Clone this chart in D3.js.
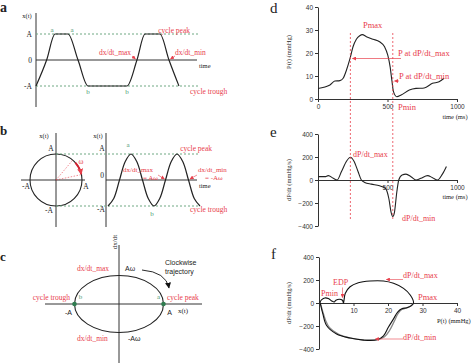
<!DOCTYPE html>
<html><head><meta charset="utf-8">
<script src="https://cdn.jsdelivr.net/npm/d3@7"></script>
<style>body{margin:0;background:#fff}svg{display:block}</style>
</head><body>
<script>
// ---------------- DATA ----------------
// panel a: idealised plateau waveform (time units, x in units of A)
const aTime = [0, 0.66, 1.18, 1.99, 2.61, 3.23, 5.65, 6.27, 6.77, 7.70, 8.26, 8.88];
const aX    = [-1, 0, 1, 1, 0, -1, -1, 0, 1, 1, 0, -1];
// panel b: sinusoid (phase in periods, x in units of A)
const bPhase = [0,0.125,0.25,0.375,0.5,0.625,0.75,0.875,1,1.125,1.25,1.375,1.5,1.625,1.75,1.875,2];
const bX     = [-1,-0.71,0,0.71,1,0.71,0,-0.71,-1,-0.71,0,0.71,1,0.71,0,-0.71,-1];
// panel c: phase-plane points
const cNames = ["a", "b"];
const cXs    = [1, -1];
const cVs    = [0, 0];
// panel d: pressure trace
const dTime = [0,86,121,157,181,205,229,252,276,300,319,348,395,443,479,502,519,531,543,567,598,657,705,764,824,871,907];
const dP    = [4.6,6.1,7.8,8.0,9.0,12.6,17.3,22.7,26,27.5,28,27.1,26,24.9,22.7,19.1,14,8.3,3.2,1.0,1.7,3.9,4.6,4.8,6.8,7.5,9.0];
// panel e: dP/dt trace
const eTime = [0,50,74,110,138,169,205,233,259,288,312,336,383,443,486,510,526,538,550,567,581,605,633,669,705,740,788,824,860,895,924];
const eDPdt = [29,29,38,15,0,74,163,198,163,74,0,-21,-36,-50,-74,-163,-281,-317,-281,-104,0,44,51,29,0,15,38,20,0,51,118];
const tAtMax = 233, tAtMin = 538;
// panel f: phase loop P vs dP/dt (beat 1 and overlapping beat 2 lower limb)
const fP  = [0.3,0.8,1.7,2.7,3.7,4.4,4.9,5.9,6.8,7.1,7.6,9.0,11.4,14.8,18.7,21.6,24.5,26.5,27.4,26.9,25.5,24.0,22.8,21.6,20.1,18.7,16.8,12.9,9.0,5.1,2.2,1.1,0.5,0.3];
const fV  = [9,30,44,39,18,9,24,33,24,0,83,141,176,191,191,171,127,68,0,-20,-41,-50,-79,-138,-211,-285,-320,-323,-305,-270,-196,-93,-20,9];
const fP2 = [27.4,26.7,25.4,24.0,22.9,21.8,20.5,19.0,16.9,12.7,8.9,5.6,3.0,1.9,1.1,0.5];
const fV2 = [0,-24,-43,-57,-92,-160,-236,-294,-318,-320,-303,-270,-212,-150,-75,-12];
// tick labels
const dXTicks = [0,500,1000], dYTicks = [0,10,20,30,40];
const eXTicks = [500,1000],  eYTicks = [-400,-200,0,200,400];
const fXTicks = [10,20,30,40], fYTicks = [-400,-200,0,200,400];

// ---------------- SETUP ----------------
const W = 474, H = 363;
const RED = "#e8404c", GREEN = "#4d9a72", GDASH = "#6fa883", AX = "#333";
const SERIF = "'Liberation Serif','DejaVu Serif',serif";
const SANS = "'Liberation Sans',Arial,sans-serif";
const svg = d3.select("body").append("svg").attr("width", W).attr("height", H);
svg.append("rect").attr("width", W).attr("height", H).attr("fill", "#fff");
const defs = svg.append("defs");
function marker(id, color, size) {
  defs.append("marker").attr("id", id).attr("viewBox", "0 0 10 10")
    .attr("refX", 9).attr("refY", 5).attr("markerWidth", size).attr("markerHeight", size)
    .attr("markerUnits", "userSpaceOnUse").attr("orient", "auto")
    .append("path").attr("d", "M0,0 L10,5 L0,10 z").attr("fill", color);
}
marker("arrR", RED, 4); marker("arrR5", RED, 6); marker("arrK", "#111", 6);

function txt(x, y, s, o = {}) {
  const t = svg.append("text").attr("x", x).attr("y", y).text(s)
    .attr("font-family", o.font || SERIF).attr("font-size", o.size || 7.5)
    .attr("fill", o.color || "#222").attr("text-anchor", o.anchor || "start");
  if (o.weight) t.attr("font-weight", o.weight);
  if (o.rotate) t.attr("transform", `rotate(${o.rotate},${x},${y})`);
  return t;
}
function line(x1, y1, x2, y2, o = {}) {
  const l = svg.append("line").attr("x1", x1).attr("y1", y1).attr("x2", x2).attr("y2", y2)
    .attr("stroke", o.color || AX).attr("stroke-width", o.w || 1);
  if (o.dash) l.attr("stroke-dasharray", o.dash);
  if (o.marker) l.attr("marker-end", `url(#${o.marker})`);
  return l;
}

// ---------------- PANEL a ----------------
{
  const x = d3.scaleLinear().domain([0, 10]).range([36, 197]);
  const y = d3.scaleLinear().domain([-1, 1]).range([86, 34]);
  txt(0, 12, "a", {size: 14, weight: "bold"});
  line(36, 13, 36, 107);
  line(36, y(0), 197, y(0));
  [1, -1].forEach(v => line(36, y(v), 200, y(v), {color: GDASH, dash: "2,2"}));
  txt(27, 18, "x(t)", {size: 6.5, anchor: "middle"});
  txt(32, y(1) + 2.5, "A", {anchor: "end"});
  txt(32, y(0) + 2.5, "0", {anchor: "end"});
  txt(32, y(-1) + 2.5, "-A", {anchor: "end"});
  txt(199, y(0) + 8, "time", {size: 6.5});
  const pts = aTime.map((t, i) => [x(t), y(aX[i])]);
  svg.append("path").attr("d", d3.line().curve(d3.curveMonotoneX)(pts))
    .attr("fill", "none").attr("stroke", "#222").attr("stroke-width", 1.2);
  txt(x(aTime[2]) - 3, y(1) - 2, "a", {color: GREEN, anchor: "middle", size: 7});
  txt(x(aTime[3]) + 4, y(1) - 2, "a", {color: GREEN, anchor: "middle", size: 7});
  txt(x(aTime[5]), y(-1) + 8, "b", {color: GREEN, anchor: "middle", size: 7});
  txt(x(aTime[6]), y(-1) + 8, "b", {color: GREEN, anchor: "middle", size: 7});
  txt(190, y(1) - 1.5, "cycle peak", {color: RED, anchor: "end"});
  txt(190, y(-1) + 8, "cycle trough", {color: RED});
  txt(99, 55, "dx/dt_max", {color: RED});
  line(132, 56, x(aTime[7]) - 1.5, y(0) - 1, {color: RED, w: 0.7, marker: "arrR"});
  txt(175, 55, "dx/dt_min", {color: RED});
  line(175, 56, x(aTime[10]) + 1.5, y(0) - 1, {color: RED, w: 0.7, marker: "arrR"});
}

// ---------------- PANEL b ----------------
{
  txt(0, 135, "b", {size: 13, weight: "bold"});
  const cx = d3.scaleLinear().domain([-1, 1]).range([30, 82]);
  const cy = d3.scaleLinear().domain([-1, 1]).range([206, 154]);
  const X0 = cx(0), Y0 = cy(0), R = cx(1) - cx(0);
  line(X0, 133, X0, 227);
  line(21, Y0, 85, Y0);
  svg.append("circle").attr("cx", X0).attr("cy", Y0).attr("r", R)
    .attr("fill", "none").attr("stroke", "#222").attr("stroke-width", 1.1);
  txt(44, 138, "x(t)", {size: 6.5, anchor: "middle"});
  txt(51, 151, "A", {anchor: "middle"});
  txt(26, 189, "-A", {anchor: "middle"});
  txt(86, 189, "A", {anchor: "middle"});
  txt(49, 213, "-A", {anchor: "middle"});
  // omega rays and arc
  [50, 12].forEach(deg => {
    const a = -deg * Math.PI / 180;
    line(X0, Y0, X0 + R * Math.cos(a), Y0 + R * Math.sin(a), {color: RED, w: 0.6, dash: "1.5,1.5"});
  });
  const p = d3.path(); p.arc(X0, Y0, R, -42 * Math.PI / 180, -13 * Math.PI / 180, false);
  svg.append("path").attr("d", p.toString()).attr("fill", "none").attr("stroke", "#d42030")
    .attr("stroke-width", 1.8).attr("marker-end", "url(#arrR5)");
  txt(81, 164, "ω", {color: RED, size: 7.5, anchor: "middle"});

  const x = d3.scaleLinear().domain([0, 2]).range([108, 200]);
  const y = cy;
  line(106, 133, 106, 227);
  line(106, Y0, 197, Y0);
  [1, -1].forEach(v => line(X0, y(v), 200, y(v), {color: GDASH, dash: "2,2"}));
  txt(98, 138, "x(t)", {size: 6.5, anchor: "middle"});
  txt(102, 151, "A", {anchor: "middle"});
  txt(102, 178, "0", {anchor: "middle"});
  txt(101, 212, "-A", {anchor: "middle"});
  txt(199, y(0) + 8, "time", {size: 6.5});
  const pts = bPhase.map((t, i) => [x(t), y(bX[i])]);
  svg.append("path").attr("d", d3.line().curve(d3.curveCatmullRom)(pts))
    .attr("fill", "none").attr("stroke", "#222").attr("stroke-width", 1.2);
  txt(x(0.5) - 3, y(1) - 7, "a", {color: GREEN, anchor: "middle", size: 7});
  txt(x(1) - 2, y(-1) + 10, "b", {color: GREEN, anchor: "middle", size: 7});
  txt(212, y(1) - 3, "cycle peak", {color: RED, anchor: "end"});
  txt(190, y(-1) + 6, "cycle trough", {color: RED});
  txt(123, 172, "dx/dt_max", {color: RED, size: 7});
  txt(143, 180, "= Aω", {color: RED, size: 7});
  line(158, 175, x(1.25) - 1, y(0) - 1, {color: RED, w: 0.6, marker: "arrR"});
  txt(198, 172, "dx/dt_min", {color: RED, size: 7});
  txt(205, 180, "= -Aω", {color: RED, size: 7});
  line(197, 175, x(1.75) + 1.5, y(0) - 1, {color: RED, w: 0.6, marker: "arrR"});
}

// ---------------- PANEL c ----------------
{
  txt(0, 261, "c", {size: 13, weight: "bold"});
  const x = d3.scaleLinear().domain([-1, 1]).range([74.5, 163.5]);
  const y = d3.scaleLinear().domain([-1, 1]).range([332.5, 275.5]);
  line(x(0), 245, x(0), 363);
  line(45, y(0), 202, y(0));
  txt(117, 242, "dx/dt", {size: 7, anchor: "middle", rotate: -90});
  svg.append("ellipse").attr("cx", x(0)).attr("cy", y(0))
    .attr("rx", x(1) - x(0)).attr("ry", y(0) - y(1))
    .attr("fill", "none").attr("stroke", "#222").attr("stroke-width", 1.1);
  const pts = cNames.map((n, i) => ({n, x: cXs[i], v: cVs[i]}));
  svg.selectAll("circle.cp").data(pts).enter().append("circle").attr("class", "cp")
    .attr("cx", d => x(d.x)).attr("cy", d => y(d.v)).attr("r", 2.3).attr("fill", "#2f7d50");
  txt(x(1) - 5, y(0) - 5, "a", {color: GREEN, anchor: "middle", size: 7});
  txt(x(-1) + 6, y(0) - 5, "b", {color: GREEN, anchor: "middle", size: 7});
  txt(70, y(0) - 4.5, "cycle trough", {color: RED, anchor: "end"});
  txt(167, y(0) - 4.5, "cycle peak", {color: RED});
  txt(x(-1) - 6, y(0) + 11, "-A", {font: SANS, size: 7, anchor: "middle"});
  txt(x(1) + 6, y(0) + 11, "A", {font: SANS, size: 7, anchor: "middle"});
  txt(183, y(0) + 9, "x(t)", {size: 7, anchor: "middle"});
  txt(77, 271, "dx/dt_max", {color: RED});
  txt(125, 271, "Aω", {font: SANS, size: 7});
  txt(77, 341, "dx/dt_min", {color: RED});
  txt(128, 341, "-Aω", {font: SANS, size: 7});
  txt(165, 265, "Clockwise", {font: SANS, size: 7});
  txt(165, 274, "trajectory", {font: SANS, size: 7});
  svg.append("path").attr("d", "M142,270 Q166,272 169,288").attr("fill", "none")
    .attr("stroke", "#111").attr("stroke-width", 0.9).attr("marker-end", "url(#arrK)");
}

// ---------------- PANEL d / e / f axes helpers ----------------
function styleAxis(g) {
  g.select(".domain").attr("stroke", AX).attr("stroke-width", 1);
  g.selectAll(".tick line").attr("stroke", AX);
  g.selectAll(".tick text").attr("font-family", SANS).attr("font-size", 6.5).attr("fill", "#333");
}
const xT = d3.scaleLinear().domain([0, 1000]).range([318, 457]);
const fmt = d3.format("d");

// ---------------- PANEL d ----------------
{
  txt(270, 13, "d", {size: 15});
  const y = d3.scaleLinear().domain([0, 40]).range([99, 7]);
  svg.append("g").attr("transform", "translate(318,0)")
    .call(d3.axisLeft(y).tickValues(dYTicks).tickFormat(fmt).tickSize(3).tickSizeOuter(0).tickPadding(2)).call(styleAxis);
  svg.append("g").attr("transform", `translate(0,${y(0)})`)
    .call(d3.axisBottom(xT).tickValues(dXTicks).tickFormat(fmt).tickSize(3).tickSizeOuter(0).tickPadding(2)).call(styleAxis);
  txt(291, 52, "P(t) (mmHg)", {size: 6.5, anchor: "middle", rotate: -90});
  txt(455, 119, "time (ms)", {size: 6.5, anchor: "middle"});
  svg.append("path").attr("d", d3.line().curve(d3.curveMonotoneX)(dTime.map((t, i) => [xT(t), y(dP[i])])))
    .attr("fill", "none").attr("stroke", "#222").attr("stroke-width", 1.1);
  txt(363, 28, "Pmax", {color: RED, size: 8.5});
  txt(398, 56, "P at dP/dt_max", {color: RED, size: 8.5});
  line(401, 58.5, xT(tAtMax) + 2, 58.5, {color: RED, w: 0.7, marker: "arrR"});
  txt(399, 79, "P at dP/dt_min", {color: RED, size: 8.5});
  line(399, 81, 394.5, 81, {color: RED, w: 0.7, marker: "arrR"});
  txt(398, 110, "Pmin", {color: RED, size: 8.5});
}

// ---------------- PANEL e ----------------
{
  txt(270, 137, "e", {size: 15});
  const y = d3.scaleLinear().domain([-400, 400]).range([226, 134]);
  svg.append("g").attr("transform", "translate(318,0)")
    .call(d3.axisLeft(y).tickValues(eYTicks).tickFormat(fmt).tickSize(3).tickSizeOuter(0).tickPadding(2)).call(styleAxis);
  svg.append("g").attr("transform", `translate(0,${y(0)})`)
    .call(d3.axisBottom(xT).tickValues(eXTicks).tickFormat(fmt).tickSize(3).tickSizeOuter(0).tickPadding(2)).call(styleAxis);
  txt(291, 180, "dP/dt (mmHg/s)", {size: 6.5, anchor: "middle", rotate: -90});
  txt(455, 199, "time (ms)", {size: 6.5, anchor: "middle"});
  svg.append("path").attr("d", d3.line().curve(d3.curveMonotoneX)(eTime.map((t, i) => [xT(t), y(eDPdt[i])])))
    .attr("fill", "none").attr("stroke", "#222").attr("stroke-width", 1.1);
  txt(353, 157, "dP/dt_max", {color: RED, size: 8});
  txt(402, 221, "dP/dt_min", {color: RED, size: 8});
}
// red dashed verticals across d and e
[tAtMax, tAtMin].forEach(t => line(xT(t), 33, xT(t), 220, {color: RED, w: 0.8, dash: "2,2"}));

// ---------------- PANEL f ----------------
{
  txt(271, 259, "f", {size: 15});
  const x = d3.scaleLinear().domain([0, 40]).range([319, 457]);
  const y = d3.scaleLinear().domain([-400, 400]).range([349, 257]);
  svg.append("g").attr("transform", "translate(319,0)")
    .call(d3.axisLeft(y).tickValues(fYTicks).tickFormat(fmt).tickSize(3).tickSizeOuter(0).tickPadding(2)).call(styleAxis);
  svg.append("g").attr("transform", `translate(0,${y(0)})`)
    .call(d3.axisBottom(x).tickValues(fXTicks).tickFormat(fmt).tickSize(3).tickSizeOuter(0).tickPadding(2)).call(styleAxis);
  txt(291, 303, "dP/dt (mmHg/s)", {size: 6.5, anchor: "middle", rotate: -90});
  txt(437, 323, "P(t) (mmHg)", {size: 6.5});
  svg.append("path").attr("d", d3.line().curve(d3.curveCatmullRom)(fP2.map((p, i) => [x(p), y(fV2[i])])))
    .attr("fill", "none").attr("stroke", "#8a8a8a").attr("stroke-width", 1.3);
  svg.append("path").attr("d", d3.line().curve(d3.curveCatmullRom)(fP.map((p, i) => [x(p), y(fV[i])])))
    .attr("fill", "none").attr("stroke", "#111").attr("stroke-width", 1.1);
  txt(403, 278, "dP/dt_max", {color: RED, size: 8});
  line(403, 279.5, x(19.5), 279.5, {color: RED, w: 0.6, marker: "arrR"});
  txt(403, 340, "dP/dt_min", {color: RED, size: 8});
  line(403, 339, x(16.3), 339, {color: RED, w: 0.6, marker: "arrR"});
  txt(333, 285, "EDP", {color: RED, size: 8});
  line(342.5, 287.5, 342.5, 297.5, {color: RED, w: 0.6, marker: "arrR"});
  txt(321, 296, "Pmin", {color: RED, size: 8});
  txt(418, 300, "Pmax", {color: RED, size: 8.5});
}
</script>
</body></html>
